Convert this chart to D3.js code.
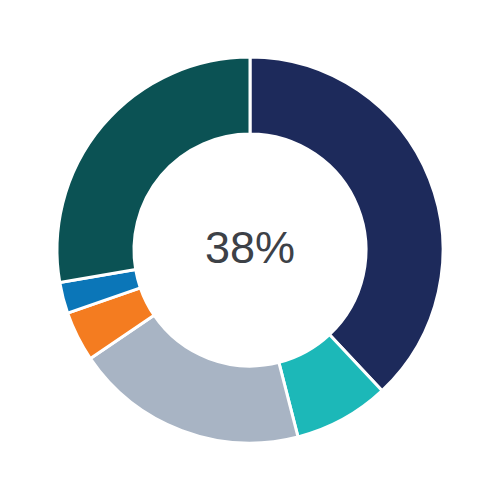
<!DOCTYPE html>
<html>
<head>
<meta charset="utf-8">
<script src="https://cdn.jsdelivr.net/npm/d3@7"></script>
<style>
html,body{margin:0;padding:0;background:#fff;}
</style>
</head>
<body>
<svg id="chart" width="500" height="500"></svg>
<script>
const categories = ["A","B","C","D","E","F"];
const values = [38, 8, 19.5, 4.2, 2.6, 27.7];
const colors = ["#1d2a5b","#1cb8b8","#a8b4c4","#f47c20","#0b76b8","#0b5254"];
const centerLabel = "38%";

const svg = d3.select("#chart");
const g = svg.append("g").attr("transform","translate(250,250)");
const pie = d3.pie().sort(null).value(d=>d.v);
const arc = d3.arc().innerRadius(116).outerRadius(193);
const data = categories.map((c,i)=>({c, v: values[i], col: colors[i]}));
g.selectAll("path").data(pie(data)).join("path")
  .attr("d", arc)
  .attr("fill", d=>d.data.col)
  .attr("stroke","#fff")
  .attr("stroke-width",3)
  .attr("stroke-linejoin","round");
g.append("text")
  .attr("x",0).attr("y",13)
  .attr("text-anchor","middle")
  .attr("font-family","'Liberation Sans', Arial, sans-serif")
  .attr("font-size",45)
  .attr("fill","#3d4147")
  .text(centerLabel);
</script>
</body>
</html>
